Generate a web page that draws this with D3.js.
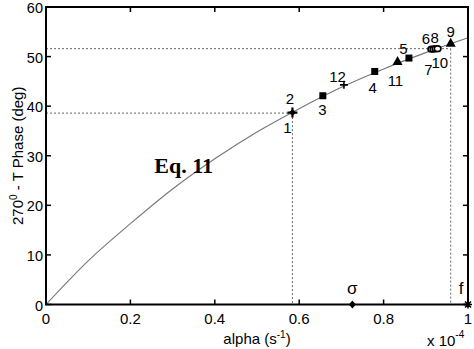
<!DOCTYPE html>
<html>
<head>
<meta charset="utf-8">
<script src="https://cdn.jsdelivr.net/npm/d3@7"></script>
<style>
  html, body { margin: 0; padding: 0; background: #fff; }
  svg { display: block; font-family: "Liberation Sans", Arial, sans-serif; }
  text { fill: #000; }
</style>
</head>
<body>
<svg id="chart" width="474" height="349"></svg>
<script>
// Eq. 11 curve: phase versus attenuation (alpha in units of 1e-4 s^-1)
const curveAlpha = [0, 0.1, 0.2, 0.3, 0.4, 0.5, 0.6, 0.7, 0.8, 0.9, 1.0];
const curvePhase = [0, 8.8, 16.3, 23.3, 29.4, 34.8, 39.5, 43.8, 47.5, 50.8, 53.8];

// measured points
const pointIds    = ["1,2", "3", "12", "4", "11", "5", "6", "7", "8", "10", "9"];
const pointAlpha  = [0.584, 0.656, 0.706, 0.779, 0.833, 0.860, 0.913, 0.918, 0.923, 0.928, 0.959];
const pointPhase  = [38.7, 42.1, 44.3, 47.0, 49.1, 49.7, 51.5, 51.5, 51.6, 51.6, 52.8];
const pointShape  = ["star", "square", "plus", "square", "triangle", "square", "circle", "circle", "circle", "circle", "triangle"];

// point labels
const labelText  = ["2", "1", "3", "12", "4", "11", "5", "6", "8", "9", "7", "10"];
const labelAlpha = [0.578, 0.572, 0.655, 0.691, 0.774, 0.828, 0.847, 0.900, 0.921, 0.959, 0.906, 0.933];
const labelPhase = [41.4, 35.6, 39.2, 45.8, 43.6, 45.0, 51.6, 53.6, 53.8, 55.0, 47.2, 48.8];

// reference guide lines (alpha, phase)
const guideAlpha = [0.584, 0.959];
const guidePhase = [38.6, 51.6];

// marks on the alpha axis
const axisMarkText  = ["σ", "f"];
const axisMarkAlpha = [0.726, 1.0];

const xTicks = [0, 0.2, 0.4, 0.6, 0.8, 1];
const yTicks = [0, 10, 20, 30, 40, 50, 60];

const svg = d3.select("#chart");
const L = 46, R = 468, T = 7, B = 304.5;
const x = d3.scaleLinear().domain([0, 1]).range([L, R]);
const y = d3.scaleLinear().domain([0, 60]).range([B, T]);

// guide lines
const g = svg.append("g");
guideAlpha.forEach((a, i) => {
  const p = guidePhase[i];
  g.append("line").attr("x1", x(0)).attr("x2", x(a)).attr("y1", y(p)).attr("y2", y(p));
  g.append("line").attr("x1", x(a)).attr("x2", x(a)).attr("y1", y(p)).attr("y2", y(0));
});
g.selectAll("line").attr("stroke", "#555").attr("stroke-width", 0.9).attr("stroke-dasharray", "2,2");

// model curve
const line = d3.line().x((d, i) => x(curveAlpha[i])).y(d => y(d)).curve(d3.curveMonotoneX);
svg.append("path").attr("d", line(curvePhase)).attr("fill", "none")
  .attr("stroke", "#777").attr("stroke-width", 1.1);

// frame with inward ticks
const axes = svg.append("g").attr("stroke", "#000");
axes.append("rect").attr("x", L).attr("y", T).attr("width", R - L).attr("height", B - T)
  .attr("fill", "none").attr("stroke-width", 2);
const tl = 5;
xTicks.forEach(t => {
  axes.append("line").attr("x1", x(t)).attr("x2", x(t)).attr("y1", B).attr("y2", B - tl).attr("stroke-width", 1.5);
  axes.append("line").attr("x1", x(t)).attr("x2", x(t)).attr("y1", T).attr("y2", T + tl).attr("stroke-width", 1.5);
});
yTicks.forEach(t => {
  axes.append("line").attr("x1", L).attr("x2", L + tl).attr("y1", y(t)).attr("y2", y(t)).attr("stroke-width", 1.5);
  axes.append("line").attr("x1", R).attr("x2", R - tl).attr("y1", y(t)).attr("y2", y(t)).attr("stroke-width", 1.5);
});

// tick labels
svg.append("g").selectAll("text").data(xTicks).join("text")
  .attr("x", d => x(d)).attr("y", B + 19).attr("text-anchor", "middle")
  .attr("font-size", 15).text(d => d3.format("")(d));
svg.append("g").selectAll("text").data(yTicks).join("text")
  .attr("x", L - 3).attr("y", d => y(d) + 6).attr("text-anchor", "end")
  .attr("font-size", 14.5).text(d => d);

// axis titles
const xt = svg.append("text").attr("x", (L + R) / 2).attr("y", 344).attr("text-anchor", "middle").attr("font-size", 15);
xt.append("tspan").text("alpha (s");
xt.append("tspan").attr("dy", -6).attr("font-size", 10).text("-1");
xt.append("tspan").attr("dy", 6).text(")");

const sc = svg.append("text").attr("x", 427).attr("y", 346).attr("font-size", 15);
sc.append("tspan").text("x 10");
sc.append("tspan").attr("dy", -8).attr("font-size", 10).text("-4");

const yt = svg.append("text").attr("transform", `translate(23,${(T + B) / 2}) rotate(-90)`)
  .attr("text-anchor", "middle").attr("font-size", 15);
yt.append("tspan").text("270");
yt.append("tspan").attr("dy", -6).attr("font-size", 10).text("0");
yt.append("tspan").attr("dy", 6).text(" - T Phase (deg)");

// equation label
svg.append("text").attr("x", 213).attr("y", 173).attr("text-anchor", "end")
  .style("font-family", "'Liberation Serif', 'Times New Roman', serif")
  .attr("font-weight", "bold").attr("font-size", 22).text("Eq. 11");

// markers
const mk = svg.append("g");
pointIds.forEach((id, i) => {
  const cx = x(pointAlpha[i]), cy = y(pointPhase[i]);
  const s = pointShape[i];
  if (s === "square") {
    mk.append("rect").attr("x", cx - 3.5).attr("y", cy - 3.5).attr("width", 7).attr("height", 7).attr("fill", "#000");
  } else if (s === "triangle") {
    mk.append("path").attr("d", `M${cx},${cy - 5} L${cx + 5},${cy + 4} L${cx - 5},${cy + 4} Z`).attr("fill", "#000");
  } else if (s === "circle") {
    mk.append("ellipse").attr("cx", cx).attr("cy", cy).attr("rx", 3.3).attr("ry", 2.8)
      .attr("fill", "#fff").attr("stroke", "#000").attr("stroke-width", 1.6);
  } else if (s === "plus") {
    mk.append("path").attr("d", `M${cx - 4},${cy} H${cx + 4} M${cx},${cy - 4} V${cy + 4}`)
      .attr("stroke", "#000").attr("stroke-width", 1.6);
  } else if (s === "star") {
    mk.append("path").attr("d", `M${cx - 5},${cy} H${cx + 5} M${cx},${cy - 5} V${cy + 5}`)
      .attr("stroke", "#000").attr("stroke-width", 2.2);
    mk.append("circle").attr("cx", cx).attr("cy", cy).attr("r", 2.5).attr("fill", "#000");
  }
});

// point labels
svg.append("g").selectAll("text").data(labelText).join("text")
  .attr("x", (d, i) => x(labelAlpha[i])).attr("y", (d, i) => y(labelPhase[i]) + 5)
  .attr("text-anchor", "middle").attr("font-size", 15).text(d => d);

// sigma and f on the alpha axis
axisMarkAlpha.forEach((a, i) => {
  const cx = x(a);
  if (i === 0) {
    mk.append("path").attr("d", `M${cx},${B - 4} L${cx + 3.5},${B} L${cx},${B + 4} L${cx - 3.5},${B} Z`).attr("fill", "#000");
    svg.append("text").attr("x", cx).attr("y", B - 11).attr("text-anchor", "middle").attr("font-size", 17).text(axisMarkText[i]);
  } else {
    mk.append("path").attr("d", `M${cx - 4},${B} H${cx + 4} M${cx},${B - 4} V${B + 4} M${cx - 3},${B - 3} L${cx + 3},${B + 3} M${cx - 3},${B + 3} L${cx + 3},${B - 3}`)
      .attr("stroke", "#000").attr("stroke-width", 1.5);
    svg.append("text").attr("x", cx - 7).attr("y", B - 11).attr("text-anchor", "middle").attr("font-size", 17).text(axisMarkText[i]);
  }
});
</script>
</body>
</html>
